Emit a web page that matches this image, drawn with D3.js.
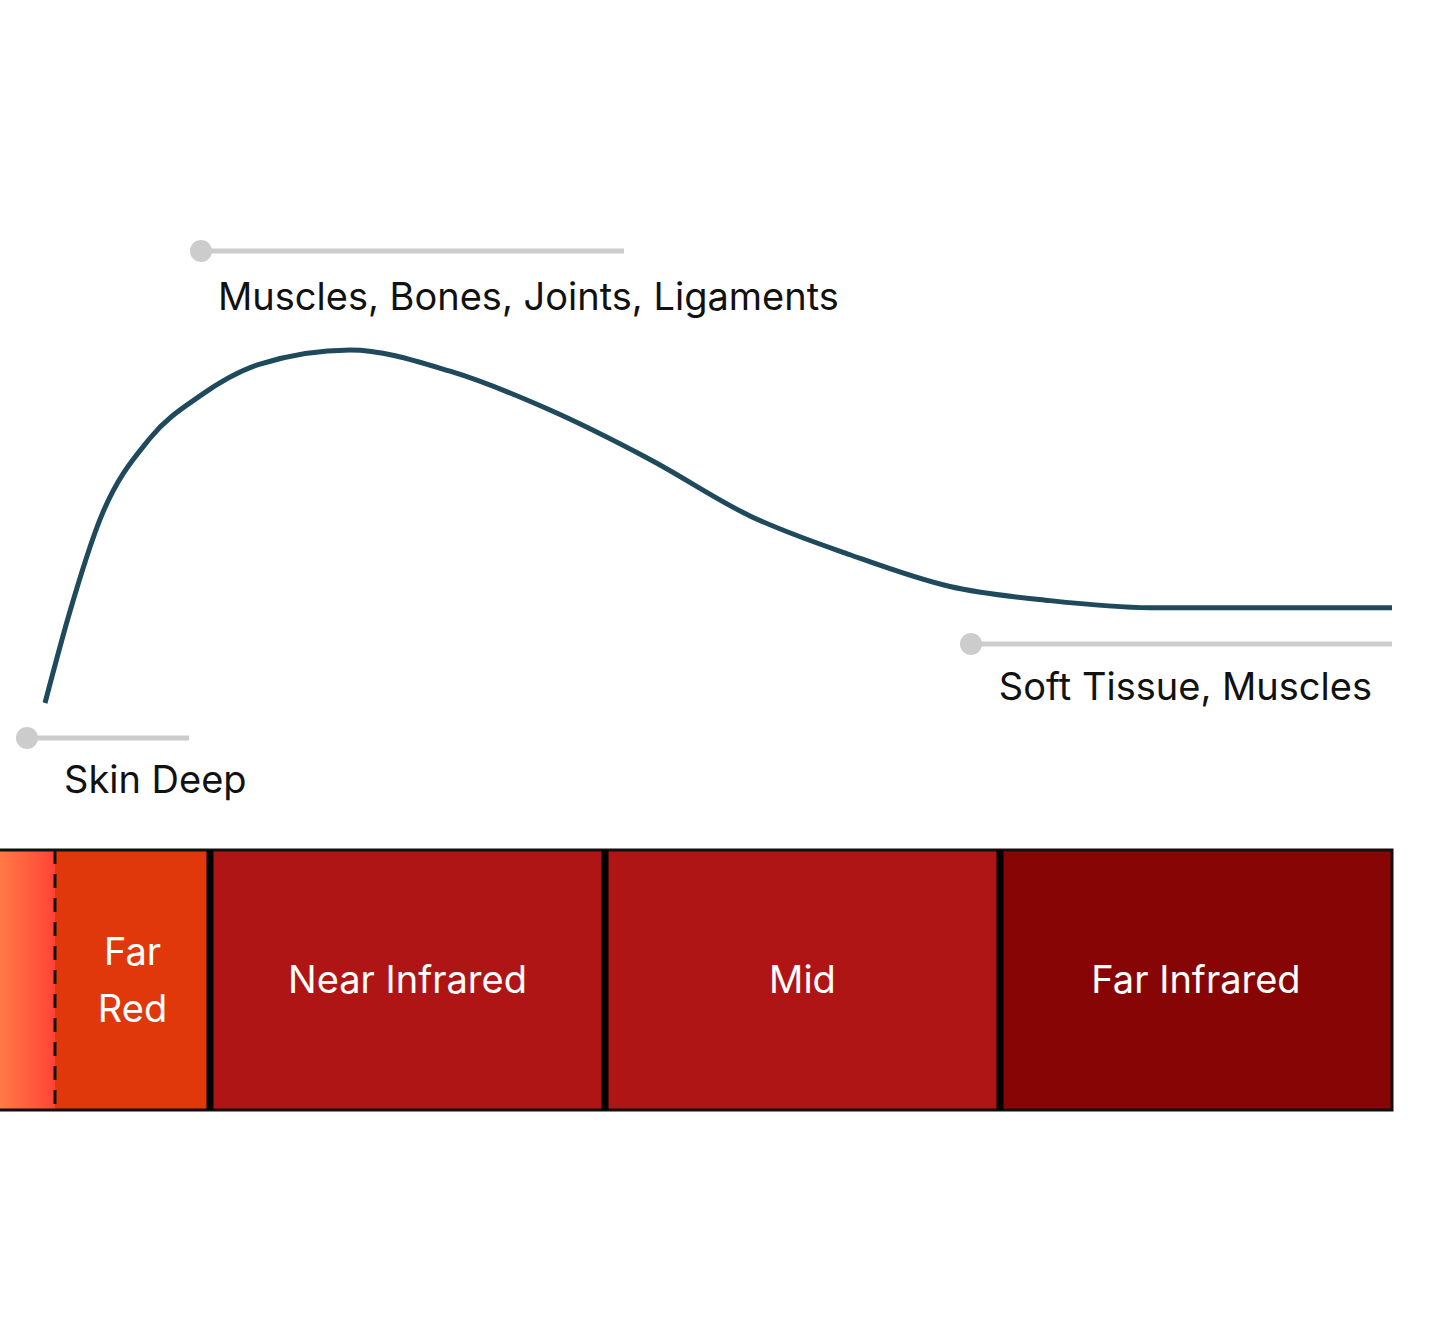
<!DOCTYPE html>
<html><head><meta charset="utf-8">
<script src="https://cdn.jsdelivr.net/npm/d3@7"></script>
<style>body{margin:0;background:#fff}</style></head>
<body><svg id="c" width="1440" height="1337"></svg>
<script>
const curveX = [0, 25, 55, 105, 155, 215, 305, 405, 505, 605, 705, 805, 905, 1005, 1105, 1205, 1347];
const depth  = [0, 26, 52, 75, 87, 96, 100, 94, 83, 69, 53, 42, 33, 29, 27, 27, 27];
const bandNames = ["", "Far\nRed", "Near Infrared", "Mid", "Far Infrared"];
const bandStart = [0, 55, 210, 605, 1000];
const bandEnd   = [55, 210, 605, 1000, 1392];
const bandColors = ["grad", "#e0380a", "#b01515", "#b01515", "#880505"];
const labels = ["Muscles, Bones, Joints, Ligaments", "Soft Tissue, Muscles", "Skin Deep"];

const svg = d3.select("#c");
const font = "Inter, 'Noto Sans', sans-serif";
const xb = d3.scaleLinear().domain([0,1392]).range([0,1392]);
const xc = d3.scaleLinear().domain([0,1347]).range([45,1392]);
const y = d3.scaleLinear().domain([0,100]).range([703,350]);

const defs = svg.append("defs");
const g = defs.append("linearGradient").attr("id","gr");
g.append("stop").attr("offset","0%").attr("stop-color","#ff7a45");
g.append("stop").attr("offset","100%").attr("stop-color","#ff4436");

const ann = [
  {x1:201,x2:624,y:251,tx:218,ty:310,anchor:"start"},
  {x1:971,x2:1392,y:644,tx:1372,ty:700,anchor:"end"},
  {x1:27,x2:189,y:738,tx:64,ty:793,anchor:"start"}
];
ann.forEach((a,i)=>{
  svg.append("line").attr("x1",a.x1).attr("x2",a.x2).attr("y1",a.y).attr("y2",a.y)
    .attr("stroke","#cccccc").attr("stroke-width",5);
  svg.append("circle").attr("cx",a.x1).attr("cy",a.y).attr("r",11).attr("fill","#cccccc");
  svg.append("text").attr("x",a.tx).attr("y",a.ty).attr("text-anchor",a.anchor)
    .attr("font-family",font).attr("font-size",38).attr("fill","#111").text(labels[i]);
});

const pts = curveX.map((v,i)=>[xc(v), y(depth[i])]);
svg.append("path").attr("d", d3.line().curve(d3.curveMonotoneX)(pts))
  .attr("fill","none").attr("stroke","#1e4a5c").attr("stroke-width",5);

const barTop=850, barBot=1110;
bandNames.forEach((n,i)=>{
  svg.append("rect").attr("x",xb(bandStart[i])).attr("y",barTop)
    .attr("width",xb(bandEnd[i])-xb(bandStart[i])).attr("height",barBot-barTop)
    .attr("fill", bandColors[i]==="grad" ? "url(#gr)" : bandColors[i]);
  const lines = n.split("\n").filter(s=>s);
  const cx = (xb(bandStart[i])+xb(bandEnd[i]))/2;
  lines.forEach((t,k)=>{
    svg.append("text").attr("x",cx).attr("y",(barTop+barBot)/2 + 13 + (k-(lines.length-1)/2)*57)
      .attr("text-anchor","middle").attr("font-family",font).attr("font-size",38)
      .attr("fill","#fff").text(t);
  });
});
svg.append("rect").attr("x",-3).attr("y",barTop).attr("width",1395).attr("height",barBot-barTop)
  .attr("fill","none").attr("stroke","#111").attr("stroke-width",3);
[210,605,1000].forEach(v=>svg.append("line").attr("x1",xb(v)).attr("x2",xb(v)).attr("y1",barTop).attr("y2",barBot)
  .attr("stroke","#000").attr("stroke-width",7));
svg.append("line").attr("x1",xb(55)).attr("x2",xb(55)).attr("y1",barTop).attr("y2",barBot)
  .attr("stroke","#111").attr("stroke-width",3).attr("stroke-dasharray","14,10");
</script></body></html>
